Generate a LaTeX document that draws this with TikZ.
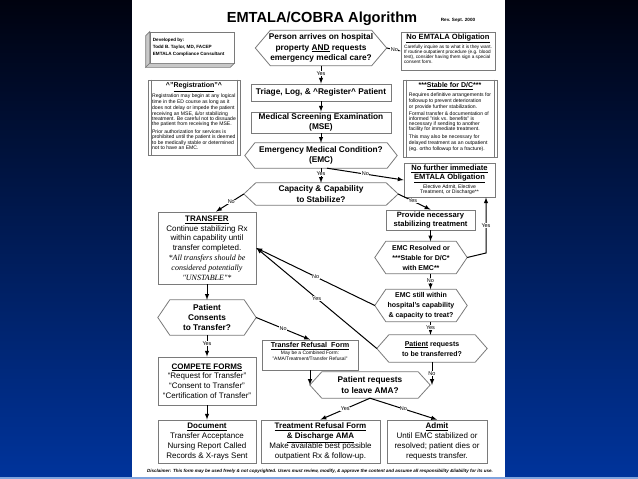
\documentclass[tikz,border=0pt]{standalone}
\usepackage{fontspec}
\setmainfont{Liberation Sans}
\newfontfamily\serifa{Liberation Serif}
\usetikzlibrary{arrows.meta, positioning, calc}

\definecolor{borda}{HTML}{7A7A7A}
\definecolor{azultopo}{HTML}{00020F}
\definecolor{azulmeio}{HTML}{00256E}
\definecolor{azulfundo}{HTML}{00349C}
\definecolor{faixa}{HTML}{7EA4DE}
\definecolor{bisel}{HTML}{C8C8C8}

\newcommand{\hexa}[2]{%
  % #1 = no, #2 = profundidade da ponta
  \draw[borda, line width=0.8pt]
    (#1.west) --
    ([xshift=#2]#1.north west) --
    ([xshift=-#2]#1.north east) --
    (#1.east) --
    ([xshift=-#2]#1.south east) --
    ([xshift=#2]#1.south west) --
    cycle;
}
\newcommand{\bordadupla}[2]{%
  % #1 = no, #2 = recuo das linhas internas
  \draw[borda, line width=0.8pt] ([xshift=#2]#1.north west) -- ([xshift=#2]#1.south west);
  \draw[borda, line width=0.8pt] ([xshift=-#2]#1.north east) -- ([xshift=-#2]#1.south east);
}
\newcommand{\bisel}[2]{%
  % #1 = no, #2 = profundidade
  \filldraw[fill=bisel, draw=borda, line width=0.6pt]
    (#1.north west) -- ([xshift=-#2, yshift=-#2]#1.north west) --
    ([xshift=-#2, yshift=-#2]#1.south west) -- (#1.south west) -- cycle;
  \filldraw[fill=bisel, draw=borda, line width=0.6pt]
    (#1.south west) -- ([xshift=-#2, yshift=-#2]#1.south west) --
    ([xshift=-#2, yshift=-#2]#1.south east) -- (#1.south east) -- cycle;
}

\begin{document}
\begin{tikzpicture}[x=1pt, y=-1pt, >=latex,
    caixa/.style={draw=borda, line width=0.8pt, align=center, inner sep=0pt,
      font=\fontsize{8}{9.8}\selectfont},
    decisao/.style={inner sep=0pt, align=center, font=\bfseries\fontsize{8.3}{10.4}\selectfont},
    decisaop/.style={inner sep=0pt, align=center, font=\bfseries\fontsize{7}{10}\selectfont},
    seta/.style={->, line width=1pt},
    rotulo/.style={fill=white, inner sep=0.4pt, font=\fontsize{5.5}{6}\selectfont},
    titbox/.style={inner sep=0pt, align=center, font=\bfseries\fontsize{7.6}{9}\selectfont},
    miudo/.style={inner sep=0pt, align=left, font=\fontsize{5.1}{4.6}\selectfont}]

    % fundo
    \useasboundingbox (0,0) rectangle (638,479);
    \shade[top color=azultopo, middle color=azulmeio, bottom color=azulfundo] (0,0) rectangle (638,479);
    \fill[white] (132,0) rectangle (505,477);
    \fill[faixa] (0,477) rectangle (638,479);

    % cabecalho
    \node[font=\bfseries\fontsize{14.6}{16}\selectfont] (titulo) at (322,19) {EMTALA/COBRA Algorithm};
    \node[font=\bfseries\fontsize{4.6}{5}\selectfont] (revisao) at (458,20) {Rev. Sept. 2000};

    \node[draw=borda, line width=0.6pt, minimum width=84, minimum height=31, inner sep=0pt] (autor) at (192,47.5) {};
    \bisel{autor}{4}
    \node[align=left, inner sep=0pt, font=\bfseries\fontsize{4.6}{7}\selectfont, right=3pt of autor.west] (autortxt)
      {Developed by:\\Todd B. Taylor, MD, FACEP\\EMTALA Compliance Consultant};

    % coluna central
    \node[decisao, minimum width=131, minimum height=35] (pessoa) at (321,48)
      {Person arrives on hospital\\property \underline{AND} requests\\emergency medical care?};
    \hexa{pessoa}{15}

    \node[caixa, minimum width=94, minimum height=38] (semobrig) at (448,51) {};
    \node[titbox, below=2pt of semobrig.north] (semobrigtit) {\underline{No EMTALA Obligation}};
    \node[miudo, font=\fontsize{4.7}{5}\selectfont, below=1.5pt of semobrigtit] (semobrigtxt)
      {Carefully inquire as to what it is they want.\\If routine outpatient procedure (e.g. blood\\test), consider having them sign a special\\consent form.};

    \node[caixa, font=\bfseries\fontsize{8.3}{10}\selectfont, minimum width=140, minimum height=17] (triagem) at (321,92.5)
      {Triage, Log, \& \textasciicircum Register\textasciicircum{} Patient};
    \node[caixa, font=\bfseries\fontsize{8.3}{9.6}\selectfont, minimum width=140, minimum height=21] (mse) at (321,122.5)
      {Medical Screening Examination\\(MSE)};
    \node[decisao, minimum width=152, minimum height=25] (emc) at (321,155.5)
      {Emergency Medical Condition?\\(EMC)};
    \hexa{emc}{10}
    \node[decisao, minimum width=154, minimum height=22] (capac) at (321,194)
      {Capacity \& Capability\\to Stabilize?};
    \hexa{capac}{12}

    % quadros laterais
    \node[caixa, minimum width=92, minimum height=75] (registro) at (194,117.5) {};
    \bordadupla{registro}{3.5}
    \node[titbox, font=\bfseries\fontsize{7}{8}\selectfont, below=3pt of registro.north] (registrotit)
      {\textasciicircum"\underline{Registration}"\textasciicircum};
    \node[miudo, below=2.5pt of registrotit] (registrotxt)
      {Registration may begin at any logical\\time in the ED course as long as it\\does not delay or impede the patient\\receiving an MSE, \&/or stabilizing\\treatment. Be careful not to dissuade\\the patient from receiving the MSE.\\[2.5pt]
       Prior authorization for services is\\prohibited until the patient is deemed\\to be medically stable or determined\\not to have an EMC.};

    \node[caixa, minimum width=94, minimum height=77] (estavel) at (450,118.5) {};
    \bordadupla{estavel}{3.5}
    \node[titbox, font=\bfseries\fontsize{7}{8}\selectfont, below=3pt of estavel.north] (estaveltit)
      {***\underline{Stable for D/C}***};
    \node[miudo, below=2.5pt of estaveltit] (estaveltxt)
      {Requires definitive arrangements for\\followup to prevent deterioration\\or provide further stabilization.\\[2pt]
       Formal transfer \& documentation of\\informed "risk vs. benefits" is\\necessary if sending to another\\facility for immediate treatment.\\[2pt]
       This may also be necessary for\\delayed treatment as an outpatient\\(eg. ortho followup for a fracture).};

    \node[caixa, minimum width=91, minimum height=34] (semmais) at (449.5,180) {};
    \node[titbox, below=2pt of semmais.north] (semmaistit)
      {\underline{No further immediate}\\\underline{EMTALA Obligation}};
    \node[inner sep=0pt, align=center, font=\fontsize{5.1}{5.8}\selectfont, below=1pt of semmaistit] (semmaistxt)
      {Elective Admit, Elective\\Treatment, or Discharge**};

    % coluna direita
    \node[caixa, font=\bfseries\fontsize{7.6}{9.6}\selectfont, minimum width=89, minimum height=20] (trata) at (430.5,220)
      {Provide necessary\\stabilizing treatment};
    \node[decisaop, minimum width=92, minimum height=32] (ecmres) at (421,257.5)
      {EMC Resolved or\\***Stable for D/C*\\with EMC**};
    \hexa{ecmres}{11}
    \node[decisaop, minimum width=92, minimum height=32] (ecmcap) at (421,305.5)
      {EMC still within\\hospital's capability\\\& capacity to treat?};
    \hexa{ecmcap}{11}
    \node[decisaop, minimum width=110, minimum height=27] (pedetransf) at (432,348.5)
      {\underline{Patient} requests\\to be transferred?};
    \hexa{pedetransf}{12}

    % coluna esquerda
    \node[caixa, minimum width=98, minimum height=72] (transf) at (207,248)
      {{\bfseries\underline{TRANSFER}}\\Continue stabilizing Rx\\within capability until\\transfer completed.\\
       {\serifa\itshape *All transfers should be}\\{\serifa\itshape considered potentially}\\{\serifa\itshape "UNSTABLE"*}};
    \node[decisao, minimum width=98, minimum height=35] (consente) at (207,317.5)
      {Patient\\Consents\\to Transfer?};
    \hexa{consente}{12}
    \node[caixa, minimum width=98, minimum height=48] (formularios) at (207,381)
      {{\bfseries\underline{COMPETE FORMS}}\\``Request for Transfer''\\``Consent to Transfer''\\``Certification of Transfer''};
    \node[caixa, minimum width=98, minimum height=43] (documento) at (207,441.5)
      {{\bfseries\underline{Document}}\\Transfer Acceptance\\Nursing Report Called\\Records \& X-rays Sent};

    % recusa e alta
    \node[caixa, minimum width=96, minimum height=30] (recusa) at (310,355) {};
    \node[titbox, font=\bfseries\fontsize{7.2}{8}\selectfont, below=2.5pt of recusa.north] (recusatit)
      {\underline{Transfer Refusal\ \ Form}};
    \node[inner sep=0pt, align=center, font=\fontsize{4.9}{5.6}\selectfont, below=1pt of recusatit] (recusatxt)
      {May be a Combined Form:\\"AMA/Treatment/Transfer Refusal"};
    \node[decisao, minimum width=120, minimum height=26] (ama) at (370,385)
      {Patient requests\\to leave AMA?};
    \hexa{ama}{12}
    \node[caixa, minimum width=119, minimum height=43] (tratrecusa) at (320.5,441.5)
      {{\bfseries\underline{Treatment Refusal Form}}\\{\bfseries\underline{\& Discharge AMA}}\\Make available best possible\\outpatient Rx \& follow-up.};
    \node[caixa, minimum width=100, minimum height=43] (internar) at (437,441.5)
      {{\bfseries\underline{Admit}}\\Until EMC stabilized or\\resolved; patient dies or\\requests transfer.};

    \node[font=\bfseries\itshape\fontsize{4.5}{5}\selectfont] (aviso) at (320,471)
      {Disclaimer: This form may be used freely \& not copyrighted. Users must review, modify, \& approve the content and assume all responsibility \&liability for its use.};

    % conectores
    \draw[seta] (pessoa.east) -- (semobrig.west) node[rotulo, pos=0.55] {No};
    \draw[seta] (pessoa.south) -- (triagem.north) node[rotulo, pos=0.45] {Yes};
    \draw[seta] (triagem.south) -- (mse.north);
    \draw[seta] (mse.south) -- (emc.north);
    \draw[seta] (emc.south) -- (capac.north) node[rotulo, pos=0.4] {Yes};
    \draw[seta] ([xshift=6pt]emc.south) -- (semmais.west) node[rotulo, pos=0.5] {No};
    \draw[seta] (capac.west) -- ([xshift=9pt]transf.north) node[rotulo, pos=0.45] {No};
    \draw[seta] (capac.east) -- (trata.north) node[rotulo, pos=0.45] {Yes};
    \draw[seta] (trata.south) -- (trata.south |- ecmres.north);
    \coordinate (dobra) at (486,253);
    \draw[seta] (ecmres.east) -- (dobra) -- (dobra |- semmais.south) node[rotulo, pos=0.5] {Yes};
    \draw[seta] (trata.south |- ecmres.south) -- (trata.south |- ecmcap.north) node[rotulo, pos=0.45] {No};
    \draw[seta] (trata.south |- ecmcap.south) -- (trata.south |- pedetransf.north) node[rotulo, pos=0.45] {Yes};
    \draw[seta] (ecmcap.west) -- (transf.east) node[rotulo, pos=0.5] {No};
    \draw[seta] (pedetransf.west) -- (transf.east) node[rotulo, pos=0.5] {Yes};
    \draw[seta] (transf.south) -- (consente.north);
    \draw[seta] (consente.east) -- (recusa.north) node[rotulo, pos=0.5] {No};
    \draw[seta] (consente.south) -- (formularios.north) node[rotulo, pos=0.4] {Yes};
    \draw[seta] (formularios.south) -- (documento.north);
    \draw[seta] (recusa.south) -- (recusa.south |- ama.west);
    \draw[seta] (pedetransf.south) -- (pedetransf.south |- ama.east) node[rotulo, pos=0.5] {No};
    \draw[seta] (ama.south) -- (tratrecusa.north) node[rotulo, pos=0.5] {Yes};
    \draw[seta] (ama.south) -- (internar.north) node[rotulo, pos=0.5] {No};

\end{tikzpicture}
\end{document}
